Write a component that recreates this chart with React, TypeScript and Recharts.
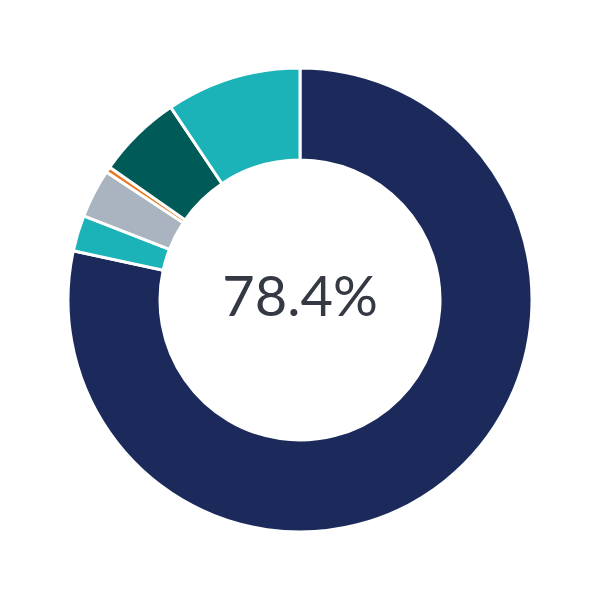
import { PieChart, Pie, Cell } from "recharts";

const categories = ["A", "B", "C", "D", "E", "F"];
const values = [78.4, 2.5, 3.4, 0.4, 5.9, 9.4];
const colors = ["#1b2a5a", "#1bb3b8", "#a9b4c0", "#e87722", "#005a58", "#1bb3b8"];
const centerLabel = "78.4%";

const data = categories.map((name, i) => ({ name, value: values[i] }));

const App = () => {
  return (
    <div style={{ position: "absolute", left: 0, top: 0, width: 600, height: 600, background: "#fff" }}>
      <PieChart width={600} height={600} margin={{ top: 0, right: 0, bottom: 0, left: 0 }}>
        <Pie
          data={data}
          dataKey="value"
          cx={300}
          cy={300}
          innerRadius={140}
          outerRadius={232}
          startAngle={90}
          endAngle={-270}
          stroke="#fff"
          strokeWidth={3}
          isAnimationActive={false}
        >
          {data.map((d, i) => (
            <Cell key={d.name} fill={colors[i]} />
          ))}
        </Pie>
        <text
          x={300}
          y={294}
          textAnchor="middle"
          dominantBaseline="central"
          style={{ fontFamily: "Lato, sans-serif", fontSize: 56, fill: "#343943" }}
        >
          {centerLabel}
        </text>
      </PieChart>
    </div>
  );
};

export default App;
